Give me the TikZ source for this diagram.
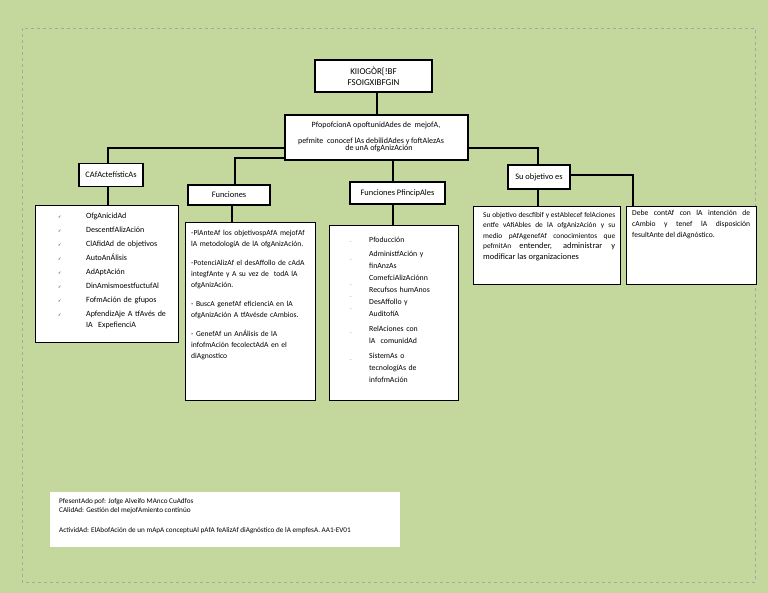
\documentclass[tikz,border=0pt]{standalone}
\usepackage{fontspec}
\setmainfont{Carlito}
\newfontfamily\djv{DejaVu Sans}
\newcommand{\chk}{\makebox[28pt][l]{\djv\fontsize{4}{4}\selectfont ✓}}
\hyphenpenalty=10000 \exhyphenpenalty=10000
\begin{document}
\begin{tikzpicture}[x=1pt,y=-1pt,
  box/.style={draw=black,line width=1.1pt,fill=white,inner sep=0pt,font=\fontsize{8.4}{10}\selectfont},
  conn/.style={draw=black,line width=2.4pt},
  txt/.style={font=\fontsize{8.4}{11.5}\selectfont,align=left,anchor=north west,inner sep=0pt}]
\fill[fill={rgb,255:red,196;green,216;blue,158}] (0,0) rectangle (768,593);
\useasboundingbox (0,0) rectangle (768,593);
\draw[gray!70,dashed,line width=0.5pt] (22,28) rectangle (755,582);
% connectors
\draw[conn] (377,90) -- (377,117);
\draw[conn] (287,148) -- (108,148) -- (108,165);
\draw[conn] (287,158) -- (235,158) -- (235,187);
\draw[conn] (393,158) -- (393,184);
\draw[conn] (466,148) -- (538,148) -- (538,167);
\draw[conn] (568,175) -- (633,175) -- (633,207);
\draw[conn] (108,185) -- (108,207);
\draw[conn] (232,203) -- (232,224);
\draw[conn] (393,203) -- (393,227);
\draw[conn] (538,188) -- (538,207);
% boxes
\node[box,minimum width=117,minimum height=32] (title) at (373.5,76) {};
\node[font=\fontsize{9}{11}\selectfont,align=center] at (title) {KIIOGÒR[!BF\\FSOIGXIBFGIN};
\node[box,minimum width=183,minimum height=45] (main) at (376.5,137.5) {};
\node[font=\fontsize{8}{9}\selectfont] at (376,125) {PfopofcionA opoftunidAdes de \ mejofA,};
\node[font=\fontsize{8}{9}\selectfont] at (371,141) {pefmite \ conocef lAs debilidAdes y foftAlezAs};
\node[font=\fontsize{8}{9}\selectfont] at (379,148.5) {de unA ofgAnizAción};
\node[box,minimum width=64,minimum height=23] (car) at (111,175) {CAfActefísticAs};
\node[box,minimum width=82,minimum height=20] (fun) at (229,195) {Funciones};
\node[box,minimum width=95,minimum height=22] (fp) at (397.5,193) {Funciones PfincipAles};
\node[box,minimum width=62,minimum height=24] (obj) at (539,177) {Su objetivo es};
% list boxes
\node[box,minimum width=143,minimum height=137,anchor=north west] (carl) at (35,205) {};
\node[txt,text width=140,font=\fontsize{8}{11}\selectfont] at (58,213) {%
\chk OfgAnicidAd\\[3pt]
\chk DescentfAlizAción\\[3pt]
\chk ClAfidAd de objetivos\\[3pt]
\chk AutoAnÁlisis\\[3pt]
\chk AdAptAción\\[3pt]
\chk DinAmismoestfuctufAl\\[3pt]
\chk FofmAción de gfupos\\[3pt]
\chk ApfendizAje A tfAvés de\\
\makebox[28pt][l]{}IA \ ExpefienciA};
\node[box,minimum width=130,minimum height=178,anchor=north west] (funl) at (185,222) {};
\node[txt,text width=114,font=\fontsize{7.6}{11}\selectfont] at (191,230) {%
-PlAnteAf los objetivospAfA mejofAf lA metodologíA de lA ofgAnizAción.\\[8pt]
-PotenciAlizAf el desAffollo de cAdA integfAnte y A su vez de \ todA lA ofgAnizAción.\\[8pt]
- BuscA genefAf eficienciA en lA ofgAnizAción A tfAvésde cAmbios.\\[8pt]
- GenefAf un AnÁlisis de lA infofmAción fecolectAdA en el diAgnostico};
\node[box,minimum width=129,minimum height=175,anchor=north west] (fpl) at (329,225) {};
\node[txt,text width=110,font=\fontsize{7.8}{12}\selectfont] at (369,237) {%
Pfoducción\\[2pt] AdministfAción y\\ finAnzAs\\ ComefciAlizAciónn\\ Recufsos humAnos\\ DesAffollo y\\ AuditofíA\\[3pt] RelAciones con\\ lA \ comunidAd\\[3pt] SistemAs o\\ tecnologíAs de\\ infofmAción};
\foreach \yy in {242,260,285,297,309,333,360} {\node[font=\tiny] at (351,\yy) {.};}
\node[box,minimum width=147,minimum height=78,anchor=north west] (objl) at (473,206) {};
\node[txt,text width=132,align=justify,font=\fontsize{7.4}{10.5}\selectfont] at (483,212) {%
Su objetivo descfibif y estAblecef felAciones entfe vAfiAbles de lA ofgAnizAción y su medio pAfAgenefAf conocimientos que pefmitAn {\fontsize{8.4}{10.5}\selectfont entender, administrar y modificar las organizaciones}};
\node[box,minimum width=130,minimum height=78,anchor=north west] (debe) at (626,206) {};
\node[txt,text width=118,align=justify,font=\fontsize{7.6}{11}\selectfont] at (632,210) {%
Debe contAf con lA intención de cAmbio y tenef lA disposición fesultAnte del diAgnóstico.};
% footer
\node[draw=none,fill=white,minimum width=350,minimum height=55,anchor=north west,inner sep=0pt] (foot) at (50,492) {};
\node[txt,font=\fontsize{7.2}{9}\selectfont] at (59,498) {PfesentAdo pof: Jofge Alveifo MAnco CuAdfos\\ CAlidAd: Gestión del mejofAmiento continúo};
\node[txt,font=\fontsize{7.2}{9}\selectfont] at (59,527) {ActividAd: ElAbofAción de un mApA conceptuAl pAfA feAlizAf diAgnóstico de lA empfesA. AA1-EV01};
\end{tikzpicture}
\end{document}
